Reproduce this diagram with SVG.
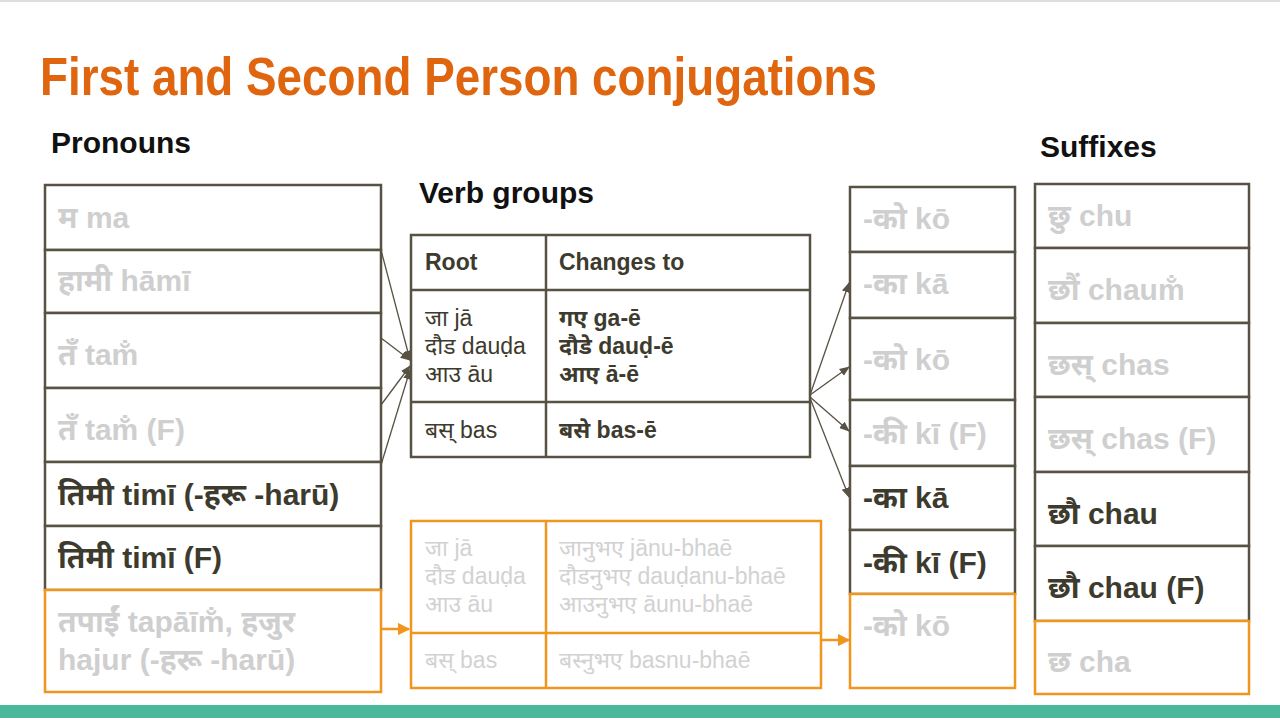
<svg xmlns="http://www.w3.org/2000/svg" width="1280" height="720" viewBox="0 0 1280 720">
<defs>
<style>
text{font-family:"Liberation Sans","Noto Sans",sans-serif}
.c{fill:#fff;stroke:#575243;stroke-width:2.5}
.o{fill:#fff;stroke:#f0961e;stroke-width:2.5}
.f{fill:#cfcfcf;font-size:30px;font-weight:bold}
.d{fill:#3d3a2e;font-size:30px;font-weight:bold}
.t{fill:#3d3a2e;font-size:23px}
.tb{fill:#3d3a2e;font-size:23px;font-weight:bold}
.tf{fill:#d2d2d2;font-size:23px}
.h{fill:#111;font-size:30px;font-weight:bold}
.ln{stroke:#575243;stroke-width:1.3;fill:none}
.lo{stroke:#f0961e;stroke-width:2.5;fill:none}
</style>
<marker id="a" viewBox="0 0 10 10" refX="9" refY="5" markerWidth="8" markerHeight="8" orient="auto"><path d="M0,1L10,5L0,9z" fill="#575243"/></marker>
<marker id="ao" viewBox="0 0 10 10" refX="9" refY="5" markerWidth="5" markerHeight="5" orient="auto"><path d="M0,0L10,5L0,10z" fill="#f0961e"/></marker>
</defs>
<rect width="1280" height="720" fill="#fff"/>
<rect x="0" y="0" width="1280" height="2" fill="#ddd"/>
<rect x="0" y="705" width="1280" height="13" fill="#4ab89a"/>
<text x="40" y="95" font-size="54" font-weight="bold" fill="#e0650f" textLength="837" lengthAdjust="spacingAndGlyphs">First and Second Person conjugations</text>
<text class="h" x="51" y="153">Pronouns</text>
<text class="h" x="419" y="203">Verb groups</text>
<text class="h" x="1040" y="157">Suffixes</text>

<g id="pronouns">
<rect class="c" x="45" y="185" width="336" height="65"/><text class="f" x="58" y="228">म ma</text>
<rect class="c" x="45" y="250" width="336" height="63"/><text class="f" x="58" y="291">हामी hāmī</text>
<rect class="c" x="45" y="313" width="336" height="75"/><text class="f" x="58" y="365">तँ tam̐</text>
<rect class="c" x="45" y="388" width="336" height="74"/><text class="f" x="58" y="440">तँ tam̐ (F)</text>
<rect class="c" x="45" y="462" width="336" height="64"/><text class="d" x="58" y="505">तिमी timī (-हरू -harū)</text>
<rect class="c" x="45" y="526" width="336" height="64"/><text class="d" x="58" y="568">तिमी timī (F)</text>
<rect class="o" x="45" y="590" width="336" height="102"/><text class="f" x="58" y="632">तपाईं tapāīm̐, हजुर</text><text class="f" x="58" y="670">hajur (-हरू -harū)</text>
</g>

<g id="verbs">
<rect class="c" x="411" y="235" width="399" height="222"/>
<line class="c" x1="411" y1="290" x2="810" y2="290"/>
<line class="c" x1="411" y1="402" x2="810" y2="402"/>
<line class="c" x1="546" y1="235" x2="546" y2="457"/>
<text class="tb" x="425" y="270" fill="#111">Root</text><text class="tb" x="559" y="270" fill="#111">Changes to</text>
<text class="t" x="425" y="326">जा jā</text><text class="t" x="425" y="354">दौड dauḍa</text><text class="t" x="425" y="382">आउ āu</text>
<text class="tb" x="559" y="326">गए ga-ē</text><text class="tb" x="559" y="354">दौडे dauḍ-ē</text><text class="tb" x="559" y="382">आए ā-ē</text>
<text class="t" x="425" y="438">बस् bas</text><text class="tb" x="559" y="438">बसे bas-ē</text>
</g>

<g id="verbs2">
<rect class="o" x="411" y="521" width="410" height="167"/>
<line class="o" x1="411" y1="633" x2="821" y2="633"/>
<line class="o" x1="546" y1="521" x2="546" y2="688"/>
<text class="tf" x="425" y="556">जा jā</text><text class="tf" x="425" y="584">दौड dauḍa</text><text class="tf" x="425" y="612">आउ āu</text>
<text class="tf" x="559" y="556">जानुभए jānu-bhaē</text><text class="tf" x="559" y="584">दौडनुभए dauḍanu-bhaē</text><text class="tf" x="559" y="612">आउनुभए āunu-bhaē</text>
<text class="tf" x="425" y="668">बस् bas</text><text class="tf" x="559" y="668">बस्नुभए basnu-bhaē</text>
</g>

<g id="participles">
<rect class="c" x="850" y="187" width="165" height="65"/><text class="f" x="863" y="229">-को kō</text>
<rect class="c" x="850" y="252" width="165" height="66"/><text class="f" x="863" y="294">-का kā</text>
<rect class="c" x="850" y="318" width="165" height="82"/><text class="f" x="863" y="370">-को kō</text>
<rect class="c" x="850" y="400" width="165" height="66"/><text class="f" x="863" y="444">-की kī (F)</text>
<rect class="c" x="850" y="466" width="165" height="64"/><text class="d" x="863" y="508">-का kā</text>
<rect class="c" x="850" y="530" width="165" height="64"/><text class="d" x="863" y="573">-की kī (F)</text>
<rect class="o" x="850" y="594" width="165" height="94"/><text class="f" x="863" y="636">-को kō</text>
</g>

<g id="suffixes">
<rect class="c" x="1035" y="184" width="214" height="64"/><text class="f" x="1048" y="226">छु chu</text>
<rect class="c" x="1035" y="248" width="214" height="75"/><text class="f" x="1048" y="300">छौं chaum̐</text>
<rect class="c" x="1035" y="323" width="214" height="74"/><text class="f" x="1048" y="375">छस् chas</text>
<rect class="c" x="1035" y="397" width="214" height="75"/><text class="f" x="1048" y="449">छस् chas (F)</text>
<rect class="c" x="1035" y="472" width="214" height="74"/><text class="d" x="1048" y="524">छौ chau</text>
<rect class="c" x="1035" y="546" width="214" height="75"/><text class="d" x="1048" y="598">छौ chau (F)</text>
<rect class="o" x="1035" y="621" width="214" height="73"/><text class="f" x="1048" y="672">छ cha</text>
</g>

<g id="connectors">
<line class="ln" x1="381" y1="250" x2="410" y2="360" marker-end="url(#a)"/>
<line class="ln" x1="381" y1="338" x2="410" y2="360" marker-end="url(#a)"/>
<line class="ln" x1="381" y1="405" x2="410" y2="366" marker-end="url(#a)"/>
<line class="ln" x1="381" y1="465" x2="410" y2="370" marker-end="url(#a)"/>
<line class="ln" x1="810" y1="395" x2="849" y2="283" marker-end="url(#a)"/>
<line class="ln" x1="810" y1="395" x2="849" y2="367" marker-end="url(#a)"/>
<line class="ln" x1="810" y1="397" x2="849" y2="431" marker-end="url(#a)"/>
<line class="ln" x1="810" y1="398" x2="849" y2="497" marker-end="url(#a)"/>
<line class="lo" x1="381" y1="629" x2="409" y2="629" marker-end="url(#ao)"/>
<line class="lo" x1="821" y1="640" x2="849" y2="640" marker-end="url(#ao)"/>
</g>
</svg>
